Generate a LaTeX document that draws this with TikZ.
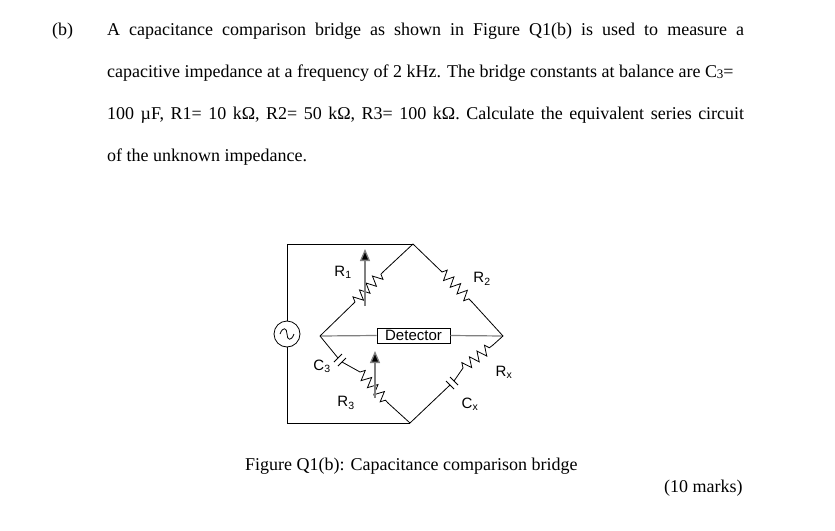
\documentclass[tikz,border=0pt]{standalone}
\usepackage{fontspec}
\setmainfont{Liberation Serif}
\setsansfont{Liberation Sans}
\usetikzlibrary{decorations.pathmorphing,arrows.meta}
\begin{document}
\begin{tikzpicture}[x=1pt,y=-1pt,
  wire/.style={line width=0.8pt},
  res/.style={line width=0.8pt,decorate,decoration={zigzag,amplitude=5pt,segment length=9.5pt}},
  varr/.style={draw=gray,line width=1.3pt,-{Triangle[length=12pt,width=10pt,fill=black]}},
  lab/.style={font=\sffamily\fontsize{15}{15}\selectfont,inner sep=0pt},
  txt/.style={font=\fontsize{18}{18}\selectfont,inner sep=0pt,anchor=base west}]
\useasboundingbox (0,0) rectangle (835,530);
% text
\node[txt] (b) at (52,35) {(b)};
\node[txt] (p1) at (107,35) {\makebox[637pt][s]{A capacitance comparison bridge as shown in Figure Q1(b) is used to measure a}};
\node[txt] (p2) at (107,77) {capacitive impedance at a frequency of 2 kHz. The bridge constants at balance are C\raisebox{-1.5pt}{\fontsize{13}{13}\selectfont 3}=};
\node[txt] (p3) at (107,119) {\makebox[637pt][s]{100 µF, R1= 10 kΩ, R2= 50 kΩ, R3= 100 kΩ. Calculate the equivalent series circuit}};
\node[txt] (p4) at (107,161) {of the unknown impedance.};
\node[txt] (cap) at (245,470) {Figure Q1(b): Capacitance comparison bridge};
\node[txt] (mk) at (664,492) {(10 marks)};
% nodes
\coordinate (T) at (413,244);
\coordinate (L) at (320,336);
\coordinate (R) at (503,336);
\coordinate (B) at (410,423);
\coordinate (FT) at (287,244);
\coordinate (FB) at (287,423);
\node[draw,circle,minimum size=26pt,inner sep=0pt,line width=0.8pt] (S) at (287,334) {};
\draw[line width=0.8pt] (280,334) .. controls (283,326) and (287,328) .. (287,334) .. controls (287,340) and (291,342) .. (294,334);
\draw[wire] (S.north) -- (FT) -- (T);
\draw[wire] (S.south) -- (FB) -- (B);
% detector
\node[draw,line width=0.8pt,minimum width=73pt,minimum height=15pt,inner sep=0pt,font=\sffamily\fontsize{15}{15}\selectfont] (D) at (413.5,335.5) {Detector};
\draw[gray,line width=1.2pt] (L) -- (D.west);
\draw[gray,line width=1.2pt] (D.east) -- (R);
% R1
\coordinate (r1a) at (355,302); \coordinate (r1b) at (383,272);
\draw[wire] (L) -- (r1a); \draw[res] (r1a) -- (r1b); \draw[wire] (r1b) -- (T);
\coordinate (a1s) at (365,306); \coordinate (a1e) at (365,249);
\draw[varr] (a1s) -- (a1e);
% R2
\coordinate (r2a) at (442,272); \coordinate (r2b) at (472,302);
\draw[wire] (T) -- (r2a); \draw[res] (r2a) -- (r2b); \draw[wire] (r2b) -- (R);
% C3 and R3
\coordinate (c3a) at (338,358); \coordinate (c3b) at (342,362);
\coordinate (r3a) at (360,372); \coordinate (r3b) at (388,403);
\draw[wire] (L) -- (c3a);
\draw[wire] (334,362) -- (342,354);
\draw[wire] (338,366) -- (346,358);
\draw[wire] (c3b) -- (r3a); \draw[res] (r3a) -- (r3b); \draw[wire] (r3b) -- (B);
\coordinate (a3s) at (375,398); \coordinate (a3e) at (375,351);
\draw[varr] (a3s) -- (a3e);
% Cx and Rx
\coordinate (cxa) at (450,385); \coordinate (cxb) at (454,381);
\coordinate (rxa) at (463,368); \coordinate (rxb) at (493,345);
\draw[wire] (B) -- (cxa);
\draw[wire] (446,381) -- (454,389);
\draw[wire] (450,377) -- (458,385);
\draw[wire] (cxb) -- (rxa); \draw[res] (rxa) -- (rxb); \draw[wire] (rxb) -- (R);
% labels
\node[lab] (lR1) at (343,272) {R$_{\mathsf 1}$};
\node[lab] (lR2) at (482,279) {R$_{\mathsf 2}$};
\node[lab] (lC3) at (322,366) {C$_{\mathsf 3}$};
\node[lab] (lR3) at (346,403) {R$_{\mathsf 3}$};
\node[lab] (lCx) at (470,404) {C$_{\mathsf x}$};
\node[lab] (lRx) at (504,372) {R$_{\mathsf x}$};
\end{tikzpicture}
\end{document}
